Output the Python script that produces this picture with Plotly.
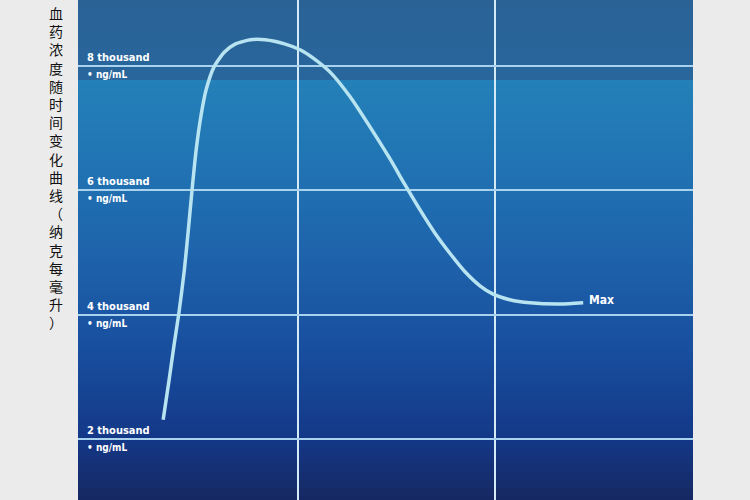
import plotly.graph_objects as go

# ---- data ----
hours = [1.26, 1.38, 1.48, 1.58, 1.69, 1.77, 1.85, 1.93, 2.03, 2.13, 2.29, 2.50, 2.72,
         3.03, 3.33, 3.74, 4.04, 4.30, 4.65, 5.06, 5.46, 5.87, 6.17, 6.48, 6.78, 7.09,
         7.39, 7.70, 7.96, 8.30, 8.71, 9.32, 9.79]
conc = [2310, 2950, 3510, 4030, 4720, 5360, 6040, 6650, 7210, 7610, 7980, 8220, 8350,
        8420, 8420, 8350, 8260, 8130, 7900, 7500, 7020, 6500, 6090, 5680, 5310, 4980,
        4690, 4460, 4330, 4240, 4190, 4170, 4190]

y_ticks = [8000, 6000, 4000, 2000]
y_tick_upper = ["8 thousand", "6 thousand", "4 thousand", "2 thousand"]
y_tick_lower = ["• ng/mL", "• ng/mL", "• ng/mL", "• ng/mL"]
x_ticks = [4, 8]
end_label = "Max"
y_title = "血药浓度随时间变化曲线（纳克每毫升）"

# ---- background gradient stops (pixel row, rgb) ----
stops = [(0, (42, 98, 150)), (79, (40, 102, 156)), (80, (36, 128, 184)),
         (150, (33, 118, 180)), (250, (30, 100, 172)), (350, (24, 78, 158)),
         (440, (20, 55, 135)), (500, (22, 40, 98))]


def color_at(py):
    for (p0, c0), (p1, c1) in zip(stops[:-1], stops[1:]):
        if p0 <= py <= p1:
            t = 0 if p1 == p0 else (py - p0) / (p1 - p0)
            c = [round(a + (b - a) * t) for a, b in zip(c0, c1)]
            return f"rgb({c[0]},{c[1]},{c[2]})"
    return "rgb(22,40,98)"


shapes = []
step = 4
for py in range(0, 500, step):
    shapes.append(dict(type="rect", xref="paper", yref="paper", layer="below",
                       x0=0, x1=1, y0=1 - (py + step) / 500, y1=1 - py / 500,
                       line=dict(width=0), fillcolor=color_at(py + step / 2)))

fig = go.Figure()
fig.add_trace(go.Scatter(x=hours, y=conc, mode="lines",
                         line=dict(color="#b8e4f2", width=3.5, shape="spline", smoothing=0.6),
                         hoverinfo="skip", showlegend=False))

font_lbl = "DejaVu Sans Condensed, Liberation Sans Narrow, sans-serif"
annotations = []
for v, up, lo in zip(y_ticks, y_tick_upper, y_tick_lower):
    annotations.append(dict(x=0, xref="paper", y=v, yref="y", text=f"<b>{up}</b>",
                            showarrow=False, xanchor="left", yanchor="bottom",
                            xshift=7, yshift=0, font=dict(color="white", size=11, family=font_lbl)))
    annotations.append(dict(x=0, xref="paper", y=v, yref="y", text=f"<b>{lo}</b>",
                            showarrow=False, xanchor="left", yanchor="top",
                            xshift=7, yshift=-1, font=dict(color="white", size=10, family=font_lbl)))
annotations.append(dict(x=hours[-1], y=conc[-1], text=f"<b>{end_label}</b>", showarrow=False,
                        xanchor="left", yanchor="middle", xshift=4, yshift=3,
                        font=dict(color="white", size=12, family=font_lbl)))
annotations.append(dict(x=0, xref="paper", y=0.998, yref="paper", text="<br>".join(y_title),
                        showarrow=False, xanchor="center", yanchor="top", xshift=-22,
                        align="center",
                        font=dict(color="#111111", size=14, family="Noto Sans CJK SC")))

fig.update_layout(
    width=750, height=500,
    margin=dict(l=78, r=57, t=0, b=0),
    paper_bgcolor="#ebebeb", plot_bgcolor="#1d5aa5",
    shapes=shapes, annotations=annotations,
    xaxis=dict(range=[-0.47, 12.02], tickvals=x_ticks, showticklabels=False,
               showgrid=True, gridcolor="#d4ebf7", gridwidth=1.5, zeroline=False,
               showline=True, linecolor="#d8e6f0", linewidth=1, mirror=True, ticks=""),
    yaxis=dict(range=[1020, 9060], tickvals=y_ticks, showticklabels=False,
               showgrid=True, gridcolor="#a9d2ef", gridwidth=1.5, zeroline=False,
               showline=False, ticks=""),
)

fig.write_html("out.html", config={"displayModeBar": False},
               post_script="document.body.style.margin='0';document.body.style.overflow='hidden';")
